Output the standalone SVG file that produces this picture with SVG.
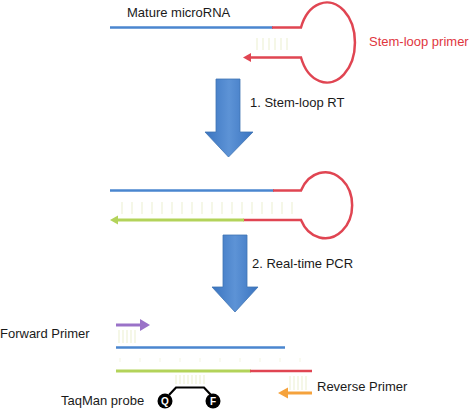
<svg xmlns="http://www.w3.org/2000/svg" width="472" height="413" viewBox="0 0 472 413">
<style>
text{font-family:"Liberation Sans",Arial,sans-serif;font-size:13px;fill:#1a1a1a}
.red{fill:#e0363e}
.b{stroke:#4a86cf;stroke-width:2.5;fill:none}
.r{stroke:#e04552;stroke-width:2.5;fill:none}
.g{stroke:#b3d35a;stroke-width:3;fill:none}
.h{stroke:#eef2d8;stroke-width:1.2;fill:none}
.bigarrow{fill:url(#ag);stroke:#3f74b3;stroke-width:0.8}
</style>
<defs>
<linearGradient id="ag" x1="0" y1="0" x2="1" y2="0">
<stop offset="0" stop-color="#3a74c0"/>
<stop offset="0.5" stop-color="#5d93d6"/>
<stop offset="1" stop-color="#3a74c0"/>
</linearGradient>
</defs>
<g id="stage1">
<text x="127" y="17">Mature microRNA</text>
<line class="b" x1="110" y1="27.5" x2="273" y2="27.5"/>
<path class="r" d="M272 27.5 L301 27.5 A28 40 0 1 1 301 57.5 L246 57.5"/>
<path d="M243 57.5 L251 53 L251 62 Z" fill="#e04552"/>
<path class="h" d="M257 38v12M263 38v12M269 38v12M275 38v12M281 38v12M287 38v12"/>
<text class="red" x="369" y="46">Stem-loop primer</text>
</g>
<g id="arrow1">
<path class="bigarrow" d="M216 79 H240 V132 H253 L228.5 157 L205 132 H216 Z"/>
<text x="250" y="107">1. Stem-loop RT</text>
</g>
<g id="stage2">
<line class="b" x1="110" y1="190.5" x2="274" y2="190.5"/>
<path class="r" d="M273 190.5 L301 190.5 A27 33 0 1 1 301 220 L243 220"/>
<line class="g" x1="116" y1="220" x2="244" y2="220"/>
<path d="M110 220 L118 215.5 L118 224.5 Z" fill="#b3d35a"/>
<path class="h" d="M122 202v12M132 202v12M142 202v12M152 202v12M162 202v12M172 202v12M182 202v12M192 202v12M202 202v12M212 202v12M222 202v12M232 202v12M242 202v12M252 202v12M262 202v12M272 202v12M282 202v12M292 202v12"/>
</g>
<g id="arrow2">
<path class="bigarrow" d="M223 235 H247 V287 H258 L235 312 L212 287 H223 Z"/>
<text x="252" y="268">2. Real-time PCR</text>
</g>
<g id="stage3">
<text x="0" y="338">Forward Primer</text>
<line x1="116" y1="325" x2="142" y2="325" stroke="#9a72c8" stroke-width="3"/>
<path d="M150 325 L140 319 L140 331 Z" fill="#9a72c8"/>
<path class="h" d="M119 330v13M123 330v13M127 330v13M131 330v13M135 330v13"/>
<line class="b" x1="116" y1="347.5" x2="285" y2="347.5"/>
<path class="h" d="M120 358v4M140 358v4M160 358v4M180 358v4M200 358v4M220 358v4M240 358v4M260 358v4M280 358v4M300 358v4" stroke-opacity="0.6"/>
<line class="g" x1="116" y1="371" x2="251" y2="371"/>
<line class="r" x1="250" y1="371" x2="312" y2="371"/>
<path class="h" d="M176 375v9M180 375v9M184 375v9M188 375v9M192 375v9M196 375v9M200 375v9M204 375v9"/>
<path class="h" d="M290 376v14M294 376v14M298 376v14M302 376v14M306 376v14"/>
<line x1="286" y1="393" x2="312" y2="393" stroke="#f5a23c" stroke-width="3"/>
<path d="M278 393 L288 387.5 L288 398.5 Z" fill="#f5a23c"/>
<text x="317" y="391">Reverse Primer</text>
</g>
<g id="probe">
<text x="61" y="405">TaqMan probe</text>
<path d="M169 395 L176 387.5 H204 L211 395" fill="none" stroke="#000" stroke-width="2.2"/>
<circle cx="165" cy="401" r="7.5" fill="#000"/>
<circle cx="213" cy="401" r="7.5" fill="#000"/>
<text x="165" y="405" text-anchor="middle" style="font-size:10px;font-weight:bold;fill:#fff">Q</text>
<text x="213" y="405" text-anchor="middle" style="font-size:10px;font-weight:bold;fill:#fff">F</text>
</g>
</svg>
